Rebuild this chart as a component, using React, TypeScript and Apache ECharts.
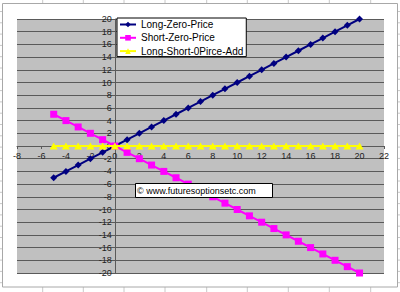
import React, { useEffect, useRef } from "react";
import * as echarts from "echarts";

const xValues = [-5, -4, -3, -2, -1, 0, 1, 2, 3, 4, 5, 6, 7, 8, 9, 10, 11, 12, 13, 14, 15, 16, 17, 18, 19, 20];
const longZeroPrice = [-5, -4, -3, -2, -1, 0, 1, 2, 3, 4, 5, 6, 7, 8, 9, 10, 11, 12, 13, 14, 15, 16, 17, 18, 19, 20];
const shortZeroPrice = [5, 4, 3, 2, 1, 0, -1, -2, -3, -4, -5, -6, -7, -8, -9, -10, -11, -12, -13, -14, -15, -16, -17, -18, -19, -20];
const longShortAdd = [0, 0, 0, 0, 0, 0, 0, 0, 0, 0, 0, 0, 0, 0, 0, 0, 0, 0, 0, 0, 0, 0, 0, 0, 0, 0];
const seriesNames = ["Long-Zero-Price", "Short-Zero-Price", "Long-Short-0Pirce-Add"];
const seriesColors = ["#000080", "#FF00FF", "#FFFF00"];
const seriesSymbols = ["diamond", "rect", "triangle"];
const watermark = "\u00A9 www.futuresoptionsetc.com";

const FONT = 'Arial, "Liberation Sans", sans-serif';

const X_MIN = -8;
const X_MAX = 22;
const Y_MIN = -20;
const Y_MAX = 20;

export default function App() {
  const ref = useRef<HTMLDivElement>(null);
  useEffect(() => {
    if (!ref.current) return;
    const chart = echarts.init(ref.current, undefined, { renderer: "svg" });
    const seriesValues = [longZeroPrice, shortZeroPrice, longShortAdd];

    const gridLeft = 17;
    const gridRight = 16;
    const gridTop = 19;
    const gridBottom = 19;
    const gridW = 400 - gridLeft - gridRight;
    const gridH = 292 - gridTop - gridBottom;
    // place axes at the zero crossing of the other axis (labels included)
    const yAxisOffset = -((0 - X_MIN) / (X_MAX - X_MIN)) * gridW;
    const xAxisOffset = -((0 - Y_MIN) / (Y_MAX - Y_MIN)) * gridH;

    const sheetLines: any[] = [];
    const cellColor = "#c8c8c8";
    const colXs = [42.7, 83.3, 124, 165, 206.7, 247.3, 288.3, 329.3, 370.7];
    colXs.forEach((x) => {
      sheetLines.push({ type: "line", shape: { x1: x, y1: 0, x2: x, y2: 3 }, style: { stroke: cellColor, lineWidth: 1 } });
      sheetLines.push({ type: "line", shape: { x1: x, y1: 287, x2: x, y2: 292 }, style: { stroke: cellColor, lineWidth: 1 } });
    });
    for (let y = 11.5; y < 287; y += 11.3) {
      sheetLines.push({ type: "line", shape: { x1: 0, y1: y, x2: 2, y2: y }, style: { stroke: cellColor, lineWidth: 1 } });
      sheetLines.push({ type: "line", shape: { x1: 398, y1: y, x2: 400, y2: y }, style: { stroke: cellColor, lineWidth: 1 } });
    }
    sheetLines.push({
      type: "rect",
      shape: { x: 2.5, y: 3.5, width: 395, height: 283.5 },
      style: { fill: "none", stroke: "#a8a8a8", lineWidth: 1 },
    });

    chart.setOption({
      animation: false,
      backgroundColor: "#ffffff",
      textStyle: { fontFamily: FONT },
      grid: {
        left: gridLeft,
        right: gridRight,
        top: gridTop,
        bottom: gridBottom,
        show: true,
        backgroundColor: "#C0C0C0",
        borderWidth: 0,
      },
      legend: {
        orient: "vertical",
        left: 117,
        top: 18,
        backgroundColor: "#ffffff",
        borderColor: "#000000",
        borderWidth: 1,
        padding: [1, 3, 0, 2],
        itemWidth: 16,
        itemHeight: 7,
        itemGap: 2.3,
        textStyle: { fontSize: 10, fontFamily: FONT, color: "#000000", lineHeight: 11 },
        data: seriesNames,
      },
      xAxis: {
        type: "value",
        min: X_MIN,
        max: X_MAX,
        interval: 2,
        position: "bottom",
        offset: xAxisOffset,
        axisLine: { onZero: false, lineStyle: { color: "#5a5a5a", width: 1 } },
        axisTick: { show: true, length: 3, lineStyle: { color: "#5a5a5a" } },
        axisLabel: { fontSize: 9, fontFamily: FONT, color: "#222222", margin: 5 },
        splitLine: { show: false },
      },
      yAxis: {
        type: "value",
        min: Y_MIN,
        max: Y_MAX,
        interval: 2,
        position: "left",
        offset: yAxisOffset,
        axisLine: { show: true, onZero: false, lineStyle: { color: "#5a5a5a", width: 1 } },
        axisTick: { show: true, length: 3, lineStyle: { color: "#5a5a5a" } },
        axisLabel: { fontSize: 9, fontFamily: FONT, color: "#222222", margin: 3 },
        splitLine: { show: true, lineStyle: { color: "#5a5a5a", width: 1 } },
      },
      series: seriesNames.map((name, si) => ({
        name,
        type: "line",
        data: xValues.map((x, i) => [x, seriesValues[si][i]]),
        symbol: seriesSymbols[si],
        symbolSize: si === 2 ? [8, 7] : 7,
        showAllSymbol: true,
        lineStyle: { color: seriesColors[si], width: 2 },
        itemStyle: { color: seriesColors[si], borderColor: seriesColors[si], borderWidth: 0 },
        z: 2 + si,
      })),
      graphic: [
        ...sheetLines,
        {
          type: "rect",
          z: 100,
          shape: { x: 135.5, y: 183.5, width: 137, height: 14 },
          style: { fill: "#ffffff", stroke: "#000000", lineWidth: 1 },
        },
        {
          type: "text",
          z: 101,
          x: 137,
          y: 190.5,
          style: { text: watermark, font: `9px ${FONT}`, fill: "#000000", verticalAlign: "middle", align: "left" },
        },
      ],
    });
    return () => chart.dispose();
  }, []);
  return <div ref={ref} style={{ position: "fixed", left: 0, top: 0, width: 400, height: 292 }} />;
}
